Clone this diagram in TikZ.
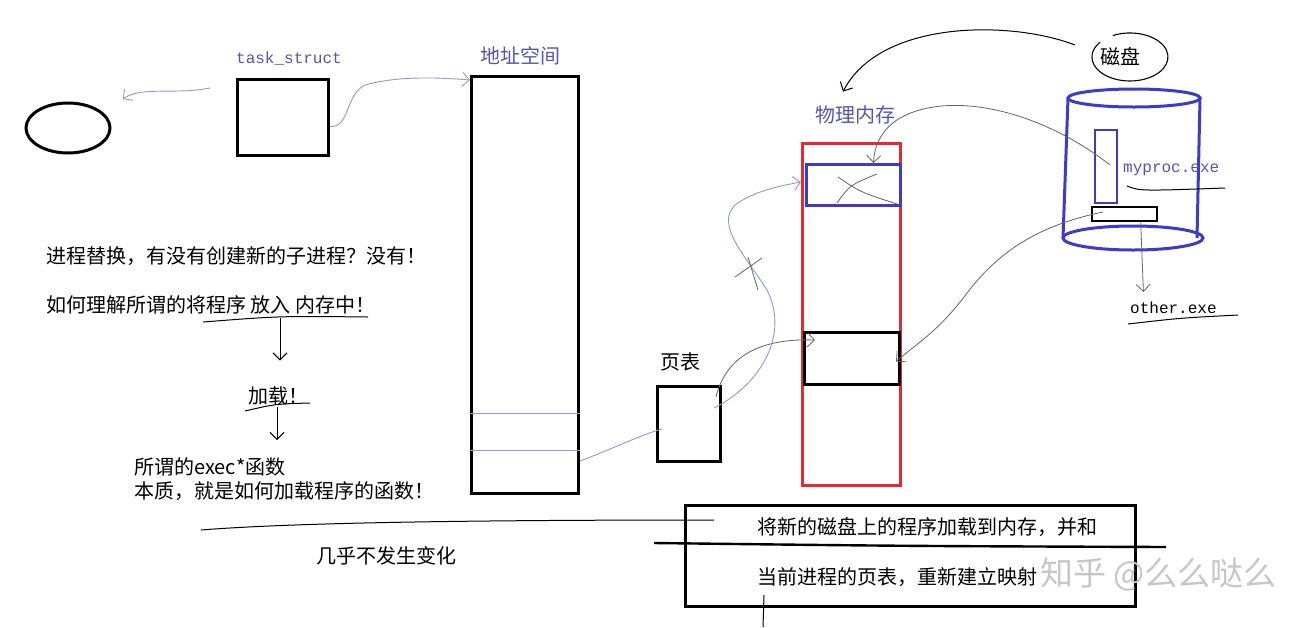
\documentclass[tikz,border=0pt]{standalone}
\usepackage{fontspec}
\setmonofont{Liberation Mono}
\newfontfamily\cjk{Noto Sans CJK SC}
\usetikzlibrary{positioning,arrows.meta,shapes.geometric}
\definecolor{labelblue}{RGB}{85,85,175}
\definecolor{lav}{RGB}{150,150,210}
\definecolor{diskblue}{RGB}{60,60,200}
\definecolor{memred}{RGB}{225,45,50}
\definecolor{pengray}{RGB}{100,100,100}

\begin{document}
\begin{tikzpicture}[x=1pt,y=-1pt,
  box/.style={draw,line width=3pt,inner sep=0pt,anchor=north west},
  txt/.style={font=\cjk\fontsize{20}{22}\selectfont,inner sep=0pt},
  code/.style={font=\ttfamily\fontsize{16}{18}\selectfont,text=labelblue,inner sep=0pt},
  pen/.style={draw=pengray,line width=0.8pt},
  ink/.style={draw=lav,line width=0.9pt},
  barb/.style={-{Straight Barb[length=7pt,width=14pt]}}]
  \fill[white] (0,0) rectangle (1297,627);
  \useasboundingbox (0,0) rectangle (1297,627);

  % process, task_struct, address space
  \node[draw,ellipse,line width=3pt,minimum width=84pt,minimum height=50pt] (proc) at (68,128) {};
  \node[box,minimum width=91pt,minimum height=76pt] (task) at (236,78) {};
  \node[code] (tasklbl) at (289,59) {task\_struct};
  \node[box,minimum width=107pt,minimum height=417pt] (vas) at (470,75) {};
  \node[txt,text=labelblue] (vaslbl) at (520,56) {地址空间};
  \draw[ink] (vas.west |- 0,413) -- (vas.east |- 0,413);
  \draw[ink] (vas.west |- 0,450) -- (vas.east |- 0,450);

  \draw[ink,barb] ([shift={(-26pt,-10pt)}]task.north west) .. controls (175,95) and (140,86) .. ([shift={(24pt,10pt)}]proc.north east);
  \draw[ink,barb] ([yshift=-9pt]task.east) .. controls (350,128) and (345,95) .. (365,85)
    .. controls (400,75) and (445,78) .. ([yshift=-5pt]vas.north west);

  % page table
  \node[box,minimum width=63pt,minimum height=75pt] (pt) at (656,385) {};
  \node[txt] (ptlbl) at (680,362) {页表};
  \draw[ink] ([yshift=34pt]vas.south east) .. controls (610,450) and (640,435) .. ([shift={(6pt,-5pt)}]pt.west);

  % physical memory
  \node[draw=memred,line width=3pt,inner sep=0pt,anchor=north west,minimum width=98pt,minimum height=342pt] (phys) at (801,142) {};
  \node[txt,text=labelblue] (physlbl) at (855,115) {物理内存};
  \node[box,draw=diskblue,minimum width=94pt,minimum height=41pt] (frame) at (805,163) {};
  \node[box,minimum width=95pt,minimum height=52pt] (frame2) at (803,331) {};
  \draw[pen] (837,203) .. controls (850,185) .. (877,174);
  \draw[pen] (838,177) .. controls (860,192) .. (897,204);

  \draw[pen,barb] ([shift={(-6pt,-12pt)}]pt.north east) .. controls (725,360) and (755,338) .. ([shift={(12pt,-9pt)}]frame2.north west);
  \draw[ink,barb] ([shift={(-8pt,-23pt)}]pt.north east) .. controls (760,385) and (790,335) .. (767,290)
    .. controls (745,255) and (715,225) .. (735,205) .. controls (755,190) and (785,185) .. ([shift={(-4pt,-19pt)}]frame.north west);
  \draw[pen] (735,277) -- (762,258);
  \draw[pen] (748,257) -- (758,290);

  % disk
  \node[txt] (disk) at (1120,57) {磁盘};
  \draw[line width=1.1pt] (1112.7,35.6) arc[start angle=243,end angle=578,x radius=38,y radius=24];
  \draw[line width=3pt,diskblue] (1134,98) ellipse [x radius=66, y radius=9];
  \draw[line width=3pt,diskblue] (1068,98) -- (1063,238);
  \draw[line width=3pt,diskblue] (1200,98) -- (1197,238);
  \draw[line width=3pt,diskblue] (1133,238) ellipse [x radius=70, y radius=12];
  \node[box,draw=diskblue,line width=2.4pt,minimum width=22pt,minimum height=73pt] (exe) at (1094,129) {};
  \node[box,line width=2.4pt,minimum width=65pt,minimum height=14pt] (other) at (1091,206) {};
  \node[code,anchor=west] (myproc) at (1123,170) {myproc.exe};
  \draw[line width=1pt] (1127,186) .. controls (1140,191) .. (1225,188);
  \node[code,text=black,anchor=west] (otherlbl) at (1130,308) {other.exe};
  \draw[line width=1pt] (1128,324) .. controls (1180,318) .. (1238,315);
  \draw[pen,barb] ([xshift=16pt]other.south) -- ([shift={(-30pt,10pt)}]otherlbl.north);

  \draw[line width=1pt,barb] ([shift={(-45pt,12pt)}]disk.center) .. controls (1010,20) and (880,20) .. ([shift={(-12pt,14pt)}]physlbl.north);
  \draw[pen,barb] ([shift={(16pt,-36pt)}]exe.north west) .. controls (1040,110) and (950,90) .. (900,118)
    .. controls (880,130) and (874,148) .. ([xshift=20pt]frame.north);
  \draw[pen,barb] ([shift={(12pt,-6pt)}]other.north west) .. controls (1040,225) and (1000,250) .. (967,293)
    .. controls (940,330) and (915,345) .. ([shift={(-5pt,-3pt)}]frame2.east);

  % notes on the left
  \node[txt,anchor=west] (q1) at (46,256) {进程替换，有没有创建新的子进程？没有！};
  \node[txt,anchor=west] (q2) at (46,305) {如何理解所谓的将程序 放入 内存中！};
  \draw[line width=1pt] (203,322) .. controls (280,316) .. (368,317);
  \node[txt] (load) at (278,396) {加载！};
  \draw[line width=1pt] (245,411) .. controls (275,404) .. (310,403);
  \draw[line width=1pt,barb] (280,318) -- ([shift={(2pt,26pt)}]load.north);
  \draw[line width=1pt,barb] (277,407) -- (277,440);
  \node[txt,anchor=west] (exec) at (134,467) {所谓的exec*函数};
  \node[txt,anchor=west] (essence) at (134,491) {本质，就是如何加载程序的函数！};

  % bottom note
  \node[box,minimum width=450pt,minimum height=101pt] (note) at (684,504) {};
  \node[txt,anchor=west] (note1) at (757,527) {将新的磁盘上的程序加载到内存，并和};
  \node[txt,anchor=west] (note2) at (757,577) {当前进程的页表，重新建立映射};
  \draw[line width=2.4pt] (654,543) .. controls (900,546) .. (1166,547);
  \draw[line width=1pt] (201,530) .. controls (300,522) and (500,520) .. ([shift={(-43pt,7pt)}]note1.west);
  \node[txt] (same) at (386,556) {几乎不发生变化};
  \draw[line width=1pt] (764,595) -- (763,627);
  \node[font=\cjk\fontsize{33}{36}\selectfont,text=black!22,inner sep=0pt,anchor=west] (mark) at (1040,574) {知乎 @么么哒么};
\end{tikzpicture}
\end{document}
